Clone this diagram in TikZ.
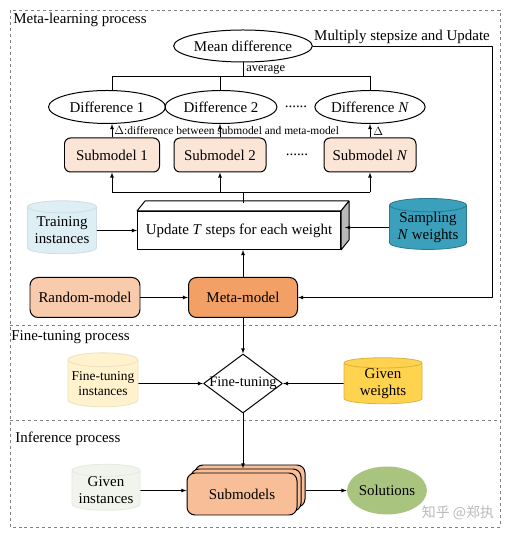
\documentclass[tikz,border=0pt]{standalone}
\usepackage{fontspec}
\setmainfont{Liberation Serif}
\newfontfamily\cjkfont{Noto Sans CJK SC}
\usetikzlibrary{shapes.geometric}
\definecolor{subfill}{HTML}{FBE5D6}
\definecolor{randfill}{HTML}{F8CBAD}
\definecolor{metafill}{HTML}{F2A065}
\definecolor{stackfill}{HTML}{F7BE97}
\definecolor{trainfill}{HTML}{DDEEF5}
\definecolor{samplefill}{HTML}{3AA0BC}
\definecolor{ftfill}{HTML}{FFF2CC}
\definecolor{givenwfill}{HTML}{FFD34E}
\definecolor{givenifill}{HTML}{F1F4EC}
\definecolor{solfill}{HTML}{A9C47F}
\tikzset{
  txt/.style={font=\fontsize{15}{17}\selectfont, inner sep=1bp},
  note/.style={font=\fontsize{11.5}{13}\selectfont, inner sep=0pt},
  oval/.style={txt, ellipse, draw, line width=1pt, inner sep=0pt},
  subbox/.style={txt, draw, line width=1pt, rounded corners=6bp, fill=subfill,
    minimum width=92bp, minimum height=34bp},
  modelbox/.style={txt, draw, line width=1pt, rounded corners=8bp,
    minimum width=109bp, minimum height=40bp},
  store/.style={txt, cylinder, shape border rotate=90, aspect=0.22, align=center,
    inner sep=0pt},
  frame/.style={dashed, gray, line width=0.7pt},
}
\begin{document}
\begin{tikzpicture}[>=latex,line join=bevel,line width=0.8pt]
\useasboundingbox (0bp,0bp) rectangle (513bp,537bp);
%% frames
\draw [frame] (10bp,10bp) rectangle (500bp,527bp);
\draw [frame] (10bp,212bp) -- (500bp,212bp);
\draw [frame] (10bp,117bp) -- (500bp,117bp);
\node (meta_title) at (12bp,517bp) [txt,anchor=west] {Meta-learning process};
\node (tune_title) at (10bp,200bp) [txt,anchor=west] {Fine-tuning process};
\node (infer_title) at (14bp,98bp) [txt,anchor=west] {Inference process};
%% meta-learning
\node (mean_diff) at (243bp,491bp) [oval,minimum width=133bp,minimum height=32bp] {Mean difference};
\node (diff_1) at (107bp,430bp) [oval,minimum width=117bp,minimum height=33bp] {Difference 1};
\node (diff_2) at (221bp,430bp) [oval,minimum width=112bp,minimum height=33bp] {Difference 2};
\node (diff_n) at (370bp,430bp) [oval,minimum width=110bp,minimum height=33bp] {Difference \textit{N}};
\node (diff_dots) at (296bp,430bp) [txt] {......};
\node (sub_1) at (112bp,382bp) [subbox,minimum width=95bp] {Submodel 1};
\node (sub_2) at (220bp,382bp) [subbox] {Submodel 2};
\node (sub_n) at (370bp,382bp) [subbox] {Submodel \textit{N}};
\node (sub_dots) at (297bp,382bp) [txt] {......};
\node (update) at (239bp,306.5bp) [txt,draw,line width=1pt,fill=white,minimum width=203bp,minimum height=38bp] {Update \textit{T} steps for each weight};
\draw [line width=1pt,fill=white] (update.north west) -- ++(8bp,10bp) -- ([shift={(8bp,10bp)}]update.north east) -- (update.north east) -- cycle;
\draw [line width=1pt,fill=gray!55] (update.north east) -- ++(8bp,10bp) -- ([shift={(8bp,10bp)}]update.south east) -- (update.south east) -- cycle;
\node (training) at (62bp,306.5bp) [store,fill=trainfill,draw=trainfill!85!gray,minimum width=69bp,minimum height=53bp] {Training\\instances};
\node (sampling) at (428bp,309.5bp) [store,fill=samplefill,draw=samplefill!75!black,minimum width=77bp,minimum height=49bp] {Sampling\\\textit{N} weights};
\node (random) at (85bp,239.5bp) [modelbox,fill=randfill,minimum width=110bp] {Random-model};
\node (meta) at (243bp,239.5bp) [modelbox,fill=metafill] {Meta-model};
%
\coordinate (avg_mid) at (243bp,460.5bp);
\coordinate (bus_mid) at (243bp,344.5bp);
\coordinate (update_back) at (243bp,334bp);
\coordinate (loop_top) at (492bp,491bp);
\draw (mean_diff) -- (avg_mid);
\node (avg_note) at (246bp,467bp) [note,anchor=west,font=\fontsize{12.5}{14}\selectfont] {average};
\draw (sub_1 |- avg_mid) -- (sub_n |- avg_mid);
\draw (sub_1 |- avg_mid) -- (sub_1 |- diff_1.north);
\draw (sub_2 |- avg_mid) -- (sub_2 |- diff_2.north);
\draw (sub_n |- avg_mid) -- (sub_n |- diff_n.north);
\draw [->] (sub_1) -- (sub_1 |- diff_1.south);
\draw [->] (sub_2) -- (sub_2 |- diff_2.south);
\draw [->] (sub_n) -- (sub_n |- diff_n.south);
\node (delta_note) at (114bp,406bp) [note,anchor=west] {$\Delta$:difference between submodel and meta-model};
\node (delta_n) at (373bp,406bp) [note,anchor=west] {$\Delta$};
\draw (update_back) -- (bus_mid);
\draw (sub_1 |- bus_mid) -- (sub_n |- bus_mid);
\draw [->] (sub_1 |- bus_mid) -- (sub_1);
\draw [->] (sub_2 |- bus_mid) -- (sub_2);
\draw [->] (sub_n |- bus_mid) -- (sub_n);
\draw [->] (training) -- (update);
\draw [->] (sampling) -- ([xshift=4bp]update.east |- sampling);
\draw [->] (random) -- (meta);
\draw [->] (meta) -- (meta |- update.south);
\draw [->] (mean_diff) -- (loop_top) |- (meta);
\node (update_note) at (402bp,500bp) [txt] {Multiply stepsize and Update};
%% fine-tuning
\node (finetune) at (243bp,153.5bp) [diamond,draw,line width=1pt,minimum width=79bp,minimum height=59bp,inner sep=0pt,
  label={[txt,font=\fontsize{14.5}{16}\selectfont]center:Fine-tuning}] {};
\node (ft_inst) at (103bp,153.5bp) [store,fill=ftfill,draw=ftfill!85!gray,minimum width=70bp,minimum height=54bp,font=\fontsize{13.5}{15}\selectfont] {Fine-tuning\\instances};
\node (given_w) at (383bp,153.5bp) [store,fill=givenwfill,draw=givenwfill!85!black,minimum width=78bp,minimum height=46bp] {Given\\weights};
\draw [->] (meta) -- (finetune);
\draw [->] (ft_inst) -- (finetune);
\draw [->] (given_w) -- (finetune);
%% inference
\node (stack_back) at (250bp,51bp) [modelbox,fill=stackfill,minimum width=110bp,minimum height=42bp] {};
\node (stack_mid) at (246bp,47bp) [modelbox,fill=stackfill,minimum width=110bp,minimum height=42bp] {};
\node (submodels) at (242bp,43bp) [modelbox,fill=stackfill,minimum width=110bp,minimum height=42bp] {Submodels};
\node (given_inst) at (106bp,46.5bp) [store,fill=givenifill,draw=givenifill!90!gray,minimum width=68bp,minimum height=46bp] {Given\\instances};
\node (solutions) at (387bp,46.5bp) [txt,ellipse,fill=solfill,minimum width=75bp,minimum height=48bp,inner sep=0pt] {Solutions};
\draw [->] (finetune) -- (finetune |- stack_mid.north);
\draw [->] (given_inst) -- (given_inst -| submodels.west);
\draw [->] (stack_back.east |- solutions) -- (solutions);
\node (watermark) at (458bp,24bp) [font=\cjkfont\fontsize{14}{16}\selectfont,text=gray!55] {知乎 @郑执};
%
\end{tikzpicture}
\end{document}
